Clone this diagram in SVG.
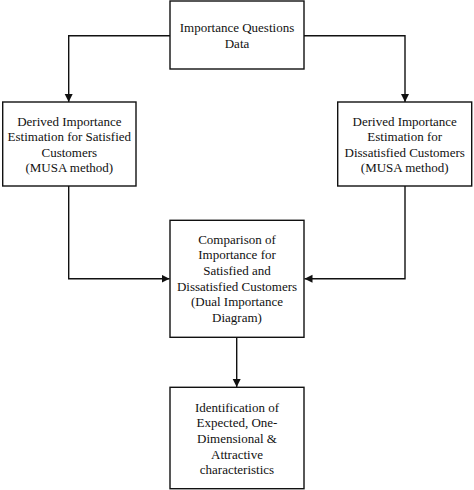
<svg xmlns="http://www.w3.org/2000/svg" width="474" height="490" viewBox="0 0 474 490">
<defs>
<marker id="ah" markerWidth="10" markerHeight="10" refX="8" refY="4" orient="auto" markerUnits="userSpaceOnUse">
<path d="M0,0 L8,4 L0,8 Z" fill="#111"/>
</marker>
<style>
.box{fill:#fff;stroke:#111;stroke-width:1.4}
.con{fill:none;stroke:#111;stroke-width:1.4;marker-end:url(#ah)}
text{font-family:"Liberation Serif","Times New Roman",serif;font-size:13px;fill:#111;text-anchor:middle}
</style>
</defs>
<rect width="474" height="490" fill="#fff"/>
<g id="connectors">
<path class="con" d="M170,35.7 H68.7 V102"/>
<path class="con" d="M304,35.7 H405 V102"/>
<path class="con" d="M68.7,186 V278.7 H169.5"/>
<path class="con" d="M405,186 V278.7 H304.5"/>
<path class="con" d="M236.7,337.3 V387"/>
</g>
<g id="n-top">
<rect class="box" x="170" y="1" width="134" height="68"/>
<text x="237" y="32">Importance Questions</text>
<text x="237" y="47.5">Data</text>
</g>
<g id="n-left">
<rect class="box" x="2.7" y="102" width="133.3" height="84"/>
<text x="69.3" y="125.5">Derived Importance</text>
<text x="69.3" y="141">Estimation for Satisfied</text>
<text x="69.3" y="156.5">Customers</text>
<text x="69.3" y="172">(MUSA method)</text>
</g>
<g id="n-right">
<rect class="box" x="337.7" y="102" width="134" height="84"/>
<text x="404.7" y="125.5">Derived Importance</text>
<text x="404.7" y="141">Estimation for</text>
<text x="404.7" y="156.5">Dissatisfied Customers</text>
<text x="404.7" y="172">(MUSA method)</text>
</g>
<g id="n-mid">
<rect class="box" x="170" y="220.3" width="134" height="117"/>
<text x="237" y="243.5">Comparison of</text>
<text x="237" y="259.2">Importance for</text>
<text x="237" y="274.9">Satisfied and</text>
<text x="237" y="290.6">Dissatisfied Customers</text>
<text x="237" y="306.3">(Dual Importance</text>
<text x="237" y="322">Diagram)</text>
</g>
<g id="n-bottom">
<rect class="box" x="170" y="387.3" width="134" height="101.4"/>
<text x="237" y="411.7">Identification of</text>
<text x="237" y="427.3">Expected, One-</text>
<text x="237" y="443">Dimensional &amp;</text>
<text x="237" y="458.7">Attractive</text>
<text x="237" y="474.3">characteristics</text>
</g>
</svg>
